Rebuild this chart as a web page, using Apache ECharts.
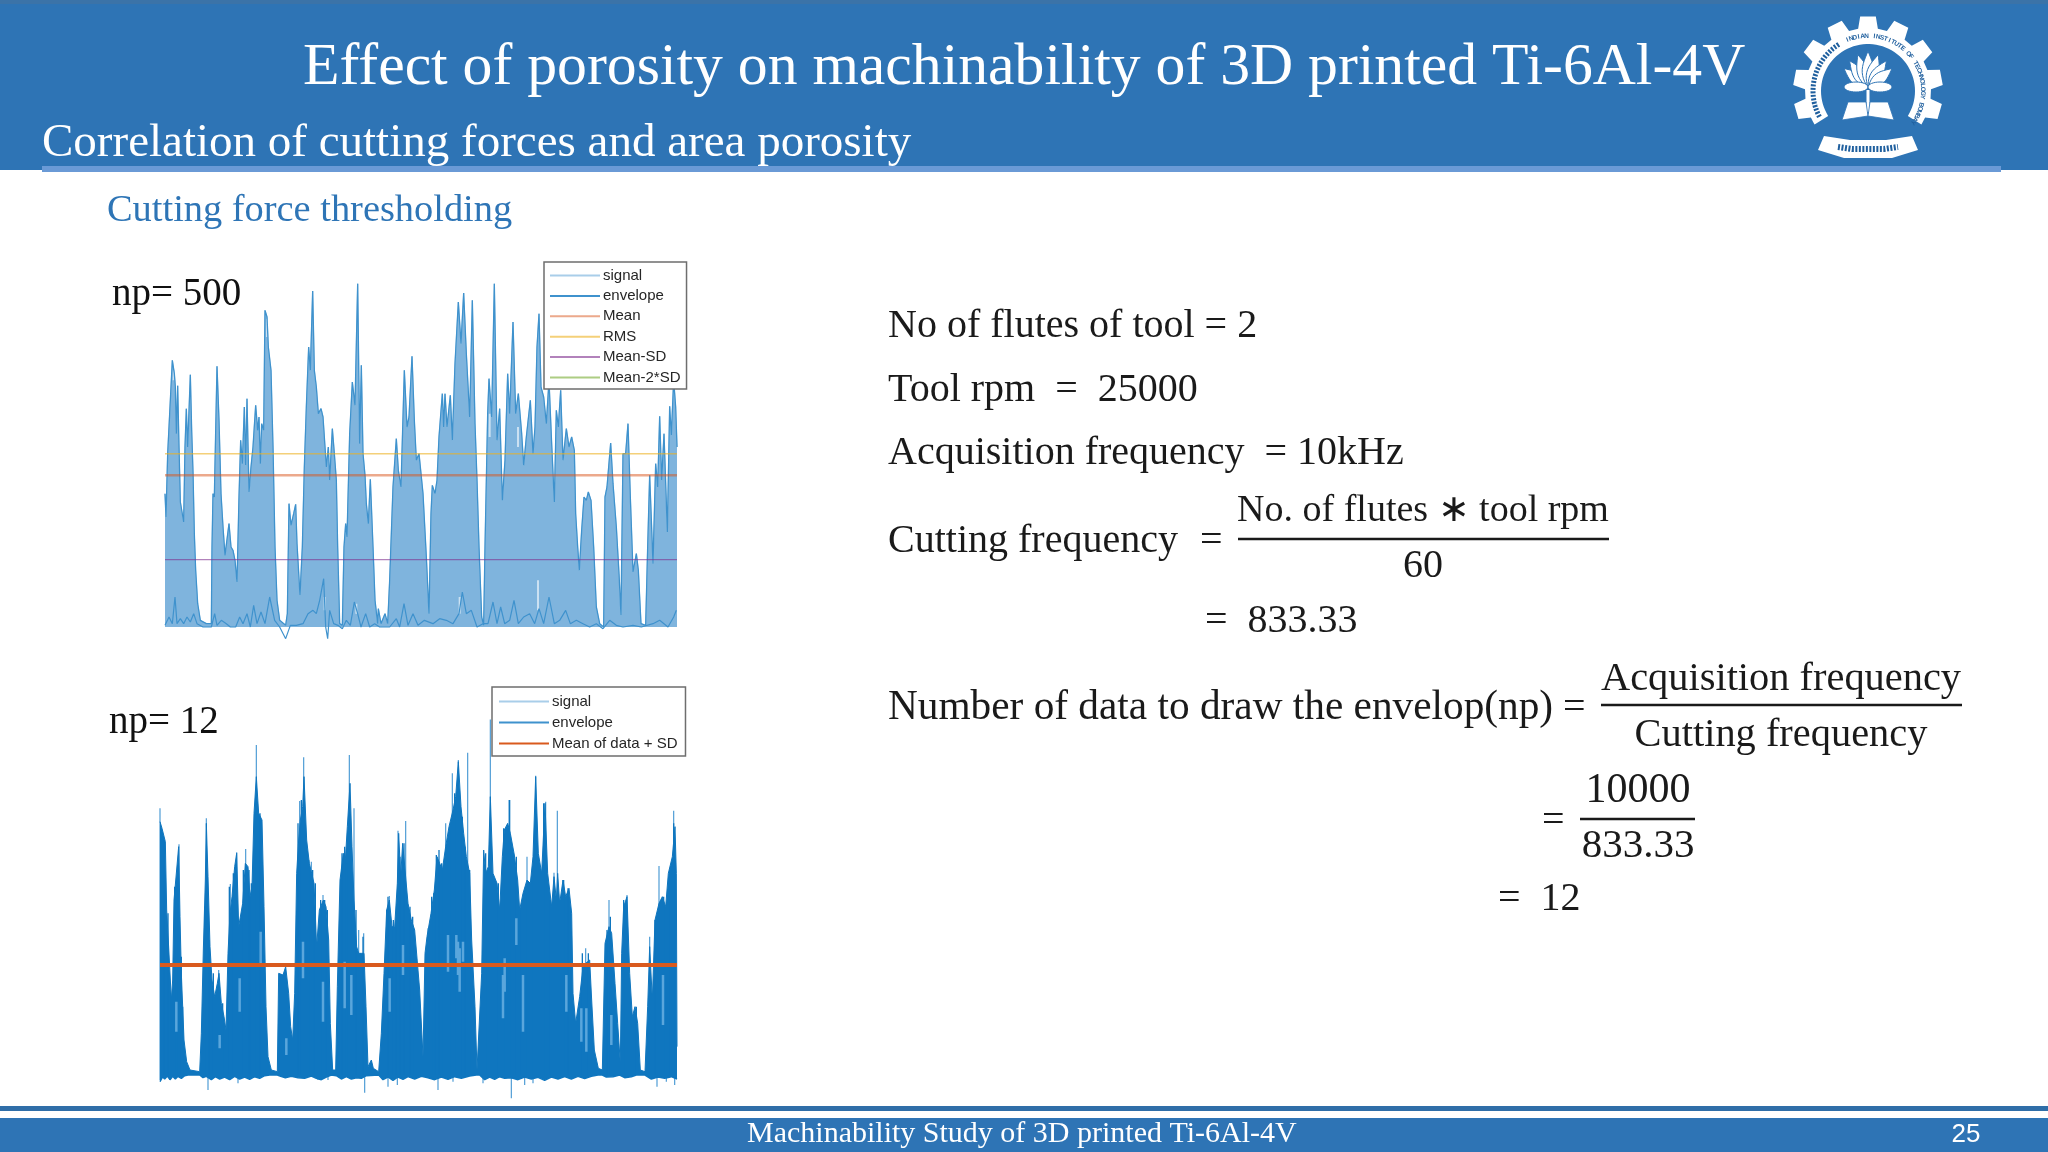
<!DOCTYPE html>
<html style="height: 100%">
<head>
<meta charset="utf-8">
<script src="https://cdn.jsdelivr.net/npm/echarts@6/dist/echarts.min.js"></script>
</head>
<body style="height: 100%; margin: 0; background: #fff">
<div id="container" style="width: 2048px; height: 1152px"></div>
<script>
// np = 500 panel, values as [time, force]
var topUpper = [[16,400],[19,330],[24,520],[30,640],[38,800],[44,760],[47,720],[50,580],[54,724],[58,540],[62,375],[68,370],[72,315],[76,540],[80,655],[84,540],[92,757],[96,590],[100,465],[104,280],[108,170],[114,70],[122,20],[140,10],[155,10],[157,240],[160,400],[164,390],[172,782],[178,620],[184,400],[190,300],[196,215],[208,310],[214,240],[220,230],[226,200],[232,135],[238,390],[243,560],[248,490],[254,660],[258,485],[262,685],[268,405],[274,480],[280,540],[288,665],[294,590],[298,630],[302,490],[306,610],[312,590],[316,950],[322,930],[326,840],[334,770],[340,540],[346,240],[352,80],[360,20],[378,5],[383,40],[388,370],[394,305],[402,340],[408,368],[412,250],[416,180],[421,95],[428,240],[434,480],[440,660],[447,840],[452,770],[459,1008],[464,770],[470,720],[476,640],[484,655],[490,630],[500,480],[506,540],[510,440],[518,595],[524,520],[530,440],[534,240],[540,10],[548,5],[553,240],[558,310],[562,270],[570,580],[578,735],[586,665],[594,1030],[600,550],[605,785],[610,520],[616,455],[620,370],[626,310],[632,443],[640,240],[646,80],[654,10],[656,55],[664,10],[676,40],[684,10],[690,140],[700,420],[710,565],[716,470],[724,420],[734,770],[742,600],[748,630],[757,812],[764,620],[770,500],[778,520],[790,400],[800,210],[808,40],[814,340],[818,425],[826,400],[832,440],[838,570],[848,700],[852,600],[856,700],[862,600],[872,695],[878,560],[886,790],[896,975],[904,850],[912,1002],[920,820],[930,630],[938,980],[946,610],[952,440],[958,240],[966,30],[972,5],[976,240],[984,640],[988,745],[996,630],[1004,1030],[1012,560],[1020,655],[1028,380],[1036,500],[1044,760],[1050,640],[1060,915],[1068,640],[1076,700],[1086,580],[1092,485],[1100,570],[1112,680],[1120,520],[1126,600],[1132,840],[1138,940],[1144,720],[1152,690],[1160,610],[1168,740],[1176,550],[1184,375],[1190,650],[1196,600],[1203,710],[1210,500],[1220,595],[1228,540],[1236,570],[1244,530],[1248,340],[1254,240],[1259,170],[1266,290],[1273,390],[1280,380],[1286,405],[1294,380],[1302,240],[1310,60],[1320,10],[1332,0],[1336,390],[1342,420],[1353,552],[1360,430],[1370,300],[1378,160],[1384,35],[1390,520],[1398,520],[1405,610],[1412,390],[1420,165],[1430,220],[1436,170],[1444,10],[1458,5],[1464,240],[1470,455],[1480,190],[1488,490],[1494,420],[1500,632],[1506,440],[1513,580],[1523,285],[1530,662],[1535,575],[1542,740],[1548,660],[1552,540]];
var topLower = [[16,5],[28,30],[38,10],[46,90],[52,10],[62,25],[72,10],[82,30],[92,15],[102,40],[112,10],[130,0],[155,0],[165,40],[172,5],[185,20],[200,10],[212,0],[228,0],[240,30],[250,10],[262,40],[272,0],[282,65],[292,10],[304,45],[316,10],[330,90],[345,20],[360,0],[378,-35],[392,5],[410,5],[430,10],[445,40],[460,50],[470,40],[480,80],[492,145],[498,0],[504,-35],[510,50],[522,10],[535,5],[548,-5],[560,20],[572,5],[584,75],[594,40],[604,0],[618,40],[630,0],[645,10],[660,0],[690,0],[710,25],[720,0],[733,70],[745,5],[760,40],[775,5],[794,20],[820,10],[840,25],[860,20],[880,10],[898,40],[908,105],[920,40],[935,50],[952,0],[970,10],[985,10],[1000,75],[1012,10],[1023,60],[1035,10],[1050,20],[1063,80],[1076,10],[1092,30],[1110,40],[1125,10],[1138,55],[1152,10],[1168,90],[1184,10],[1200,20],[1218,50],[1232,10],[1250,20],[1270,10],[1290,0],[1310,10],[1330,-5],[1350,20],[1370,5],[1390,0],[1420,5],[1445,0],[1480,10],[1500,20],[1525,0],[1542,30],[1550,50]];
var topStreaks = [[42,740,770],[322,870,925],[900,40,90],[990,570,640],[1135,50,140],[495,50,90],[590,40,70],[1075,540,600]];
var topMean = 455;
var topRms = 520;
var topMeanSd = 202;
var topMean2Sd = -75;

// np = 12 panel
var lowUpper = [[16,760],[22,740],[32,700],[36,495],[44,345],[50,225],[54,285],[58,525],[64,525],[72,685],[76,475],[80,305],[88,105],[96,40],[106,15],[135,10],[140,125],[146,375],[152,585],[155,755],[160,595],[166,385],[172,285],[180,235],[188,275],[193,305],[200,215],[208,175],[214,135],[220,365],[226,485],[232,535],[240,625],[246,665],[252,445],[258,445],[264,515],[272,635],[280,625],[286,535],[292,565],[298,785],[305,895],[312,785],[322,765],[328,505],[334,205],[340,55],[350,15],[368,10],[372,305],[385,300],[393,325],[402,245],[408,145],[414,105],[420,245],[426,605],[432,705],[437,765],[444,805],[448,895],[456,705],[464,635],[470,610],[478,575],[486,385],[494,495],[506,525],[514,505],[522,405],[527,155],[534,15],[543,15],[548,265],[556,585],[566,665],[572,645],[578,745],[586,875],[592,685],[598,525],[606,385],[612,365],[620,365],[628,365],[634,205],[640,25],[650,45],[656,20],[672,10],[680,125],[688,305],[696,495],[704,525],[712,445],[720,445],[728,575],[732,725],[738,595],[744,695],[750,695],[760,515],[770,465],[780,435],[795,255],[805,55],[811,365],[817,415],[829,485],[839,555],[847,655],[855,635],[863,615],[873,685],[883,745],[895,795],[903,835],[911,940],[919,805],[927,725],[935,655],[945,605],[951,405],[961,205],[967,15],[973,15],[981,305],[987,675],[993,605],[1001,625],[1007,835],[1015,605],[1027,575],[1035,495],[1043,655],[1049,735],[1059,755],[1067,725],[1079,660],[1089,585],[1095,495],[1105,545],[1117,585],[1127,575],[1135,655],[1143,895],[1151,665],[1161,605],[1171,815],[1179,605],[1191,505],[1198,595],[1205,525],[1209,605],[1215,515],[1225,585],[1233,535],[1243,560],[1251,485],[1255,245],[1263,155],[1275,235],[1285,325],[1293,335],[1305,345],[1311,225],[1319,75],[1331,20],[1343,15],[1351,395],[1363,445],[1371,425],[1381,275],[1389,155],[1397,35],[1401,365],[1407,505],[1417,535],[1425,305],[1433,175],[1441,205],[1449,155],[1457,15],[1471,10],[1479,205],[1485,385],[1493,225],[1501,465],[1513,515],[1523,535],[1533,505],[1541,605],[1553,655],[1561,745],[1565,605],[1567,85]];
var lowLower = [[16,-20],[24,-5],[30,-12],[38,-3],[46,-14],[54,-4],[62,-12],[70,-4],[80,-10],[90,-2],[100,0],[135,0],[145,-8],[155,-4],[170,-14],[182,-5],[195,-12],[210,-6],[225,-14],[240,-4],[255,-12],[270,-6],[285,-13],[300,-5],[315,-10],[330,-2],[345,0],[368,0],[378,-4],[392,-8],[410,-4],[430,-8],[450,-10],[470,-3],[485,-10],[500,-14],[515,-6],[530,0],[545,-2],[560,-12],[575,-5],[590,-12],[605,-8],[620,-10],[635,-2],[672,0],[685,-14],[700,-6],[715,-16],[730,-6],[745,-13],[760,-5],[780,-12],[800,-4],[820,-8],[840,-14],[860,-6],[880,-13],[900,-5],[920,-10],[945,-3],[965,0],[975,0],[990,-14],[1005,-6],[1020,-13],[1035,-5],[1050,-10],[1070,-8],[1090,-14],[1110,-6],[1130,-12],[1150,-7],[1170,-16],[1190,-6],[1210,-12],[1230,-5],[1250,-12],[1270,-4],[1290,-11],[1310,-4],[1330,0],[1343,0],[1355,-6],[1375,-5],[1395,0],[1410,-8],[1430,-5],[1445,0],[1471,0],[1490,-12],[1510,-6],[1530,-10],[1550,-5],[1567,-12]];
// spikes of the raw signal that stick out of the envelope: [time, from, to]
var lowSpikes = [[16,0,800],[73,0,692],[155,0,770],[192,0,315],[227,0,573],[246,0,668],[273,0,678],[305,0,990],[435,0,822],[447,0,953],[470,0,640],[505,0,540],[584,0,960],[598,0,800],[612,0,435],[627,0,425],[704,0,537],[730,0,733],[753,0,762],[820,0,440],[873,0,755],[893,0,905],[911,0,945],[939,0,967],[1007,0,1074],[1063,0,825],[1117,0,655],[1143,0,898],[1173,0,820],[1208,0,793],[1198,0,607],[1225,0,585],[1293,0,380],[1363,0,525],[1417,0,540],[1485,0,415],[1513,0,627],[1557,0,793],[160,0,-45],[630,0,-53],[16,0,-15],[45,0,-15],[250,0,-25],[490,0,-15],[520,0,-15],[700,0,-35],[728,0,-30],[850,0,-45],[895,0,-20],[985,0,-25],[1070,0,-70],[1110,0,-30],[1135,0,-25],[1507,0,-35],[1535,0,-20],[1560,0,-30]];
// finer dark hairs along the edge of the dense band
var lowHairs = [[28,0,705],[40,0,485],[60,0,565],[66,0,575],[80,0,355],[84,0,205],[150,0,505],[163,0,405],[176,0,305],[204,0,215],[224,0,565],[236,0,605],[266,0,615],[283,0,615],[290,0,575],[300,0,705],[316,0,785],[320,0,685],[430,0,755],[440,0,825],[462,0,645],[474,0,615],[482,0,575],[498,0,525],[510,0,525],[518,0,495],[562,0,665],[570,0,685],[576,0,635],[604,0,495],[625,0,415],[696,0,495],[700,0,535],[716,0,465],[724,0,445],[736,0,655],[748,0,695],[766,0,505],[774,0,475],[831,0,535],[837,0,545],[845,0,660],[853,0,675],[861,0,635],[885,0,735],[900,0,845],[923,0,775],[931,0,685],[945,0,615],[993,0,665],[1031,0,575],[1047,0,740],[1065,0,825],[1085,0,655],[1100,0,495],[1113,0,545],[1131,0,585],[1167,0,815],[1187,0,525],[1227,0,585],[1240,0,560],[1283,0,365],[1301,0,365],[1357,0,435],[1367,0,475],[1407,0,525],[1445,0,205],[1501,0,465],[1527,0,535],[1547,0,615],[1557,0,755]];
var lowStreaks = [[65,130,220],[195,80,120],[255,190,290],[318,330,430],[445,290,400],[505,160,280],[570,200,340],[590,180,300],[705,190,290],[745,300,390],[395,60,110],[905,350,420],[910,300,400],[915,250,380],[925,340,400],[880,310,420],[1050,250,350],[1045,170,300],[1085,390,470],[1105,130,300],[1235,190,300],[1280,100,200],[1370,90,180],[1525,150,300],[1295,70,200]];
var lowMeanSd = 330;

var topLegend = ['signal', 'envelope', 'Mean', 'RMS', 'Mean-SD', 'Mean-2*SD'];
var lowLegend = ['signal', 'envelope', 'Mean of data + SD'];

var SERIF = '"Liberation Serif"';
var SANS = '"Liberation Sans"';
var HEAD_BLUE = '#2e74b5';
var INK = '#1a1a1a';

function segs(list) {
	var out = [];
	for (var i = 0; i < list.length; i++) {
		out.push([list[i][0], list[i][1]], [list[i][0], list[i][2]], [list[i][0], null]);
	}
	return out;
}
function hline(name, idx, t0, t1, val, color, width) {
	return {
		name: name, type: 'line', xAxisIndex: idx, yAxisIndex: idx, symbol: 'none', z: 6,
		data: [[t0, val], [t1, val]], lineStyle: {color: color, width: width}
	};
}
function txt(x, y, str, size, color, family, align) {
	return {
		type: 'text', x: x, y: y, z: 5, silent: true,
		style: {
			text: str, fill: color, fontFamily: family || SERIF, fontSize: size,
			textAlign: align || 'left', textVerticalAlign: 'middle'
		}
	};
}
function rect(x, y, w, h, color) {
	return {type: 'rect', z: 1, silent: true, shape: {x: x, y: y, width: w, height: h}, style: {fill: color}};
}
function bar(x0, x1, y) {
	return rect(x0, y - 1.2, x1 - x0, 2.4, INK);
}

// logo of the institute, decoration in the header
function pol(cx, cy, r, deg) {
	var a = deg * Math.PI / 180;
	return [cx + r * Math.sin(a), cy - r * Math.cos(a)];
}
function petal(cx, cy, deg, len, wid, fill) {
	var pts = [], i, u, w, p;
	for (i = 0; i <= 12; i++) {
		u = i / 12;
		w = wid * Math.sin(u * Math.PI) * (1 - 0.35 * u);
		p = pol(cx, cy, len * u, deg);
		pts.push([p[0] + w * Math.cos(deg * Math.PI / 180), p[1] + w * Math.sin(deg * Math.PI / 180)]);
	}
	for (i = 12; i >= 0; i--) {
		u = i / 12;
		w = wid * Math.sin(u * Math.PI) * (1 - 0.35 * u);
		p = pol(cx, cy, len * u, deg);
		pts.push([p[0] - w * Math.cos(deg * Math.PI / 180), p[1] - w * Math.sin(deg * Math.PI / 180)]);
	}
	return {type: 'polygon', z: 4, silent: true, shape: {points: pts}, style: {fill: fill, stroke: HEAD_BLUE, lineWidth: 1}};
}
function logo() {
	var cx = 1868, cy = 91, out = [], gear = [], a, k;
	for (a = -122; a <= -118; a += 1) gear.push(pol(cx, cy, 63, a));
	for (k = -4; k <= 4; k++) {
		var c = k * 26.5;
		gear.push(pol(cx, cy, 63, c - 9), pol(cx, cy, 75, c - 6), pol(cx, cy, 75, c + 6), pol(cx, cy, 63, c + 9));
	}
	gear.push(pol(cx, cy, 63, 122));
	for (a = 122; a >= -122; a -= 4) gear.push(pol(cx, cy, 47, a));
	out.push({type: 'polygon', z: 3, silent: true, shape: {points: gear}, style: {fill: '#fff'}});
	var name = 'INDIAN INSTITUTE OF TECHNOLOGY BOMBAY';
	for (k = 0; k < name.length; k++) {
		a = -22 + k * 147 / (name.length - 1);
		var p = pol(cx, cy, 55, a);
		out.push({
			type: 'text', x: p[0], y: p[1], z: 4, silent: true, rotation: -a * Math.PI / 180,
			style: {text: name.charAt(k), fill: '#1f5f9e', fontFamily: SANS, fontWeight: 'bold', fontSize: 6.5, textAlign: 'center', textVerticalAlign: 'middle'}
		});
	}
	var hin = [];
	for (a = -118; a <= -30; a += 3) hin.push(pol(cx, cy, 55, a));
	out.push({type: 'polyline', z: 4, silent: true, shape: {points: hin}, style: {stroke: '#1f5f9e', lineWidth: 5, lineDash: [2, 1.5], fill: 'none'}});
	for (k = -3; k <= 3; k++) {
		out.push(petal(cx, 88, k * 17, 37 - Math.abs(k) * 2, 7, '#fff'));
	}
	out.push({type: 'ellipse', z: 4, silent: true, shape: {cx: cx - 12, cy: 87, rx: 12, ry: 5}, style: {fill: '#fff', stroke: HEAD_BLUE}});
	out.push({type: 'ellipse', z: 4, silent: true, shape: {cx: cx + 12, cy: 87, rx: 12, ry: 5}, style: {fill: '#fff', stroke: HEAD_BLUE}});
	out.push(rect(cx - 1.5, 90, 3, 22, '#fff'));
	out[out.length - 1].z = 4;
	out.push({type: 'polygon', z: 4, silent: true, shape: {points: [[cx - 20, 102], [cx - 2, 102], [cx, 116], [cx - 26, 120]]}, style: {fill: '#fff', stroke: HEAD_BLUE, lineWidth: 0.8}});
	out.push({type: 'polygon', z: 4, silent: true, shape: {points: [[cx + 20, 102], [cx + 2, 102], [cx, 116], [cx + 26, 120]]}, style: {fill: '#fff', stroke: HEAD_BLUE, lineWidth: 0.8}});
	out.push({type: 'polygon', z: 4, silent: true, shape: {points: [[1824, 136], [1850, 140], [1886, 140], [1912, 136], [1918, 150], [1892, 158], [1844, 158], [1818, 150]]}, style: {fill: '#fff'}});
	out.push({type: 'polyline', z: 4, silent: true, shape: {points: [[1838, 147], [1852, 149], [1884, 149], [1898, 147]]}, style: {stroke: '#1f5f9e', lineWidth: 6, lineDash: [2, 1.5], fill: 'none'}});
	return out;
}

var slide = [
	rect(0, 0, 2048, 170, HEAD_BLUE),
	rect(0, 0, 2048, 4, '#3b73a8'),
	rect(42, 166, 1959, 6, '#6a9ad6'),
	rect(0, 1106, 2048, 5, '#2f6ea8'),
	rect(0, 1118, 2048, 34, HEAD_BLUE),
	txt(303, 68, 'Effect of porosity on machinability of 3D printed Ti-6Al-4V', 59.7, '#fff'),
	txt(42, 144, 'Correlation of cutting forces and area porosity', 47, '#fff'),
	txt(107, 211, 'Cutting force thresholding', 38.4, '#2e75b6'),
	txt(747, 1134, 'Machinability Study of 3D printed Ti-6Al-4V', 30, '#fff'),
	txt(1966, 1135, '25', 26, '#fff', SANS, 'center'),
	txt(112, 295, 'np= 500', 39, '#111'),
	txt(109, 723, 'np= 12', 39, '#111'),
	txt(888, 326, 'No of flutes of tool = 2', 40, INK),
	txt(888, 390, 'Tool rpm  =  25000', 40, INK),
	txt(888, 453, 'Acquisition frequency  = 10kHz', 40, INK),
	txt(888, 541, 'Cutting frequency', 40, INK),
	txt(1200, 541, '=', 40, INK),
	txt(1423, 511, 'No. of flutes \u2217 tool rpm', 38, INK, SERIF, 'center'),
	bar(1238, 1609, 539),
	txt(1423, 566, '60', 40, INK, SERIF, 'center'),
	txt(1205, 621, '=  833.33', 40, INK),
	txt(888, 708, 'Number of data to draw the envelop(np)', 41.3, INK),
	txt(1563, 708, '=', 40, INK),
	txt(1781, 679, 'Acquisition frequency', 40.4, INK, SERIF, 'center'),
	bar(1601, 1962, 705),
	txt(1781, 735, 'Cutting frequency', 40.4, INK, SERIF, 'center'),
	txt(1542, 821, '=', 40, INK),
	txt(1638, 791, '10000', 42, INK, SERIF, 'center'),
	bar(1580, 1695, 819),
	txt(1638, 846, '833.33', 41, INK, SERIF, 'center'),
	txt(1498, 899, '=  12', 40, INK)
].concat(logo());

var legendBase = {
	orient: 'vertical', backgroundColor: '#fff', borderColor: '#6e6e6e', borderWidth: 1.5,
	itemWidth: 50, itemHeight: 14, selectedMode: false, z: 10,
	itemStyle: {opacity: 0},
	textStyle: {fontFamily: SANS, fontSize: 15, color: '#262626', padding: [0, 0, 0, -2]}
};

var myChart = echarts.init(document.getElementById('container'));
myChart.setOption({
	animation: false,
	backgroundColor: '#fff',
	graphic: {elements: slide},
	legend: [
		Object.assign({}, legendBase, {data: topLegend, left: 544, top: 262, itemGap: 5.4, padding: [6, 6, 4, 5]}),
		Object.assign({}, legendBase, {data: lowLegend, left: 492, top: 687, itemGap: 6, padding: [7, 8, 5, 6]})
	],
	grid: [
		{left: 165, top: 280, width: 512, height: 367},
		{left: 160, top: 720, width: 517, height: 380}
	],
	xAxis: [
		{type: 'value', gridIndex: 0, min: 16, max: 1552, show: false},
		{type: 'value', gridIndex: 1, min: 16, max: 1567, show: false}
	],
	yAxis: [
		{type: 'value', gridIndex: 0, min: -60, max: 1041, show: false},
		{type: 'value', gridIndex: 1, min: -75, max: 1065, show: false}
	],
	series: [
		{
			name: 'signal', type: 'line', xAxisIndex: 0, yAxisIndex: 0, symbol: 'none', z: 2,
			data: topUpper, lineStyle: {color: '#a9cee9', width: 1},
			areaStyle: {color: '#7fb4dd', opacity: 1, origin: 0}
		},
		{
			name: 'signal', type: 'line', xAxisIndex: 0, yAxisIndex: 0, symbol: 'none', z: 3,
			data: segs(topStreaks), lineStyle: {color: '#cbe1f2', width: 2}
		},
		{
			name: 'envelope', type: 'line', xAxisIndex: 0, yAxisIndex: 0, symbol: 'none', z: 4,
			data: topUpper, lineStyle: {color: '#3f92cd', width: 1.3}
		},
		{
			name: 'envelope', type: 'line', xAxisIndex: 0, yAxisIndex: 0, symbol: 'none', z: 4,
			data: topLower, lineStyle: {color: '#3f92cd', width: 1.2}
		},
		hline('Mean', 0, 16, 1552, topMean, 'rgba(217,83,25,0.5)', 2.5),
		hline('RMS', 0, 16, 1552, topRms, 'rgba(237,177,32,0.6)', 1.5),
		hline('Mean-SD', 0, 16, 1552, topMeanSd, 'rgba(126,47,142,0.6)', 1.3),
		hline('Mean-2*SD', 0, 16, 1552, topMean2Sd, 'rgba(119,172,48,0.6)', 1.3),

		{
			name: 'signal', type: 'line', xAxisIndex: 1, yAxisIndex: 1, symbol: 'none', z: 2,
			data: segs(lowSpikes), lineStyle: {color: '#4f9dd6', width: 1.2}
		},
		{
			name: 'envelope', type: 'line', xAxisIndex: 1, yAxisIndex: 1, symbol: 'none', z: 3,
			data: lowUpper, lineStyle: {color: '#0f76bf', width: 1},
			areaStyle: {color: '#0f76bf', opacity: 1, origin: 0}
		},
		{
			name: 'envelope', type: 'line', xAxisIndex: 1, yAxisIndex: 1, symbol: 'none', z: 3,
			data: segs(lowHairs), lineStyle: {color: '#0f76bf', width: 1.3}
		},
		{
			name: 'envelope', type: 'line', xAxisIndex: 1, yAxisIndex: 1, symbol: 'none', z: 3,
			data: lowLower, lineStyle: {color: '#0f76bf', width: 1.5},
			areaStyle: {color: '#0f76bf', opacity: 1, origin: 0}
		},
		{
			name: 'signal', type: 'line', xAxisIndex: 1, yAxisIndex: 1, symbol: 'none', z: 4,
			data: segs(lowStreaks), lineStyle: {color: '#5aa6dc', width: 2.5}
		},
		hline('Mean of data + SD', 1, 16, 1567, lowMeanSd, '#d95a1e', 4)
	]
});
</script>
</body>
</html>
